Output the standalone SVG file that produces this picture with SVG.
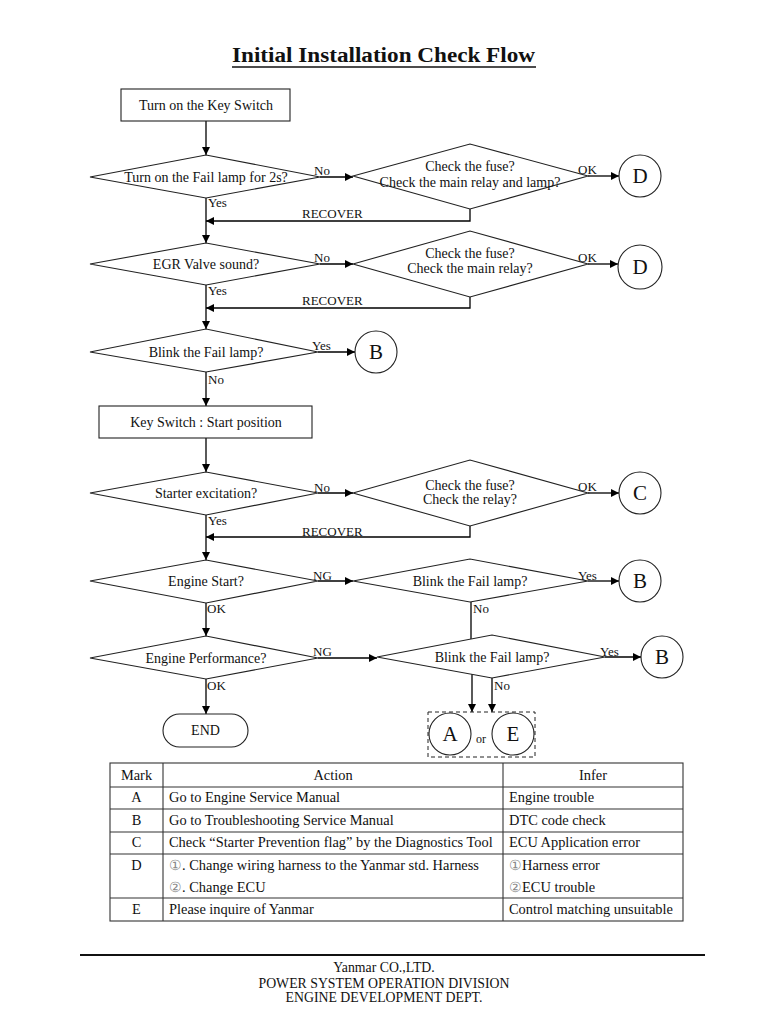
<svg xmlns="http://www.w3.org/2000/svg" width="768" height="1024" viewBox="0 0 768 1024">
<defs>
<marker id="ah" viewBox="0 0 10 10" refX="10" refY="5" markerWidth="9" markerHeight="8" markerUnits="userSpaceOnUse" orient="auto">
<path d="M0,0 L10,5 L0,10 z" fill="#000"/>
</marker>
<style>
text{font-family:"Liberation Serif","DejaVu Serif",serif;fill:#111;}
.t{font-size:14px;text-anchor:middle;}
.l{font-size:13px;}
.c{font-size:21px;text-anchor:middle;}
.s{fill:#fff;stroke:#222;stroke-width:1.1;}
.e{stroke:#000;stroke-width:1.3;fill:none;}
.a{stroke:#000;stroke-width:1.3;fill:none;marker-end:url(#ah);}
.g{fill:#888;}
.tb{fill:none;stroke:#333;stroke-width:1.1;}
</style>
</defs>
<rect width="768" height="1024" fill="#fff"/>
<g id="title">
<text x="232" y="62" font-size="20" font-weight="bold" textLength="303" lengthAdjust="spacingAndGlyphs">Initial Installation Check Flow</text>
<line x1="232" y1="67" x2="536" y2="67" stroke="#111" stroke-width="1.5"/>
</g>
<g id="connectors">
<path class="a" d="M206,121 V155"/>
<path class="a" d="M320,177 H353"/>
<path class="a" d="M588,176 H619"/>
<path class="a" d="M470,209 V221 H206"/>
<path class="a" d="M206,198 V243"/>
<path class="a" d="M320,264 H353"/>
<path class="a" d="M588,264 H618"/>
<path class="a" d="M470,297 V308 H206"/>
<path class="a" d="M206,285 V329"/>
<path class="a" d="M318,352 H355"/>
<path class="a" d="M206,372 V406"/>
<path class="a" d="M206,438 V472"/>
<path class="a" d="M318,493 H353"/>
<path class="a" d="M588,493 H619"/>
<path class="a" d="M470,526 V537 H206"/>
<path class="a" d="M206,515 V560"/>
<path class="a" d="M318,581 H353"/>
<path class="a" d="M588,581 H619"/>
<path class="e" d="M471,602 V639"/>
<path class="a" d="M206,603 V636"/>
<path class="a" d="M318,658 H377"/>
<path class="a" d="M605,657 H641"/>
<path class="a" d="M472,674 V712"/>
<path class="a" d="M492,678 V712"/>
<path class="a" d="M206,679 V714"/>
<g class="l">
<text x="314" y="175">No</text>
<text x="578" y="174">OK</text>
<text x="302" y="218">RECOVER</text>
<text x="208" y="207">Yes</text>
<text x="314" y="262">No</text>
<text x="578" y="262">OK</text>
<text x="302" y="305">RECOVER</text>
<text x="208" y="295">Yes</text>
<text x="312" y="350">Yes</text>
<text x="208" y="384">No</text>
<text x="314" y="492">No</text>
<text x="578" y="491">OK</text>
<text x="302" y="536">RECOVER</text>
<text x="208" y="525">Yes</text>
<text x="313" y="580">NG</text>
<text x="578" y="580">Yes</text>
<text x="473" y="613">No</text>
<text x="207" y="613">OK</text>
<text x="313" y="656">NG</text>
<text x="600" y="656">Yes</text>
<text x="494" y="690">No</text>
<text x="207" y="690">OK</text>
</g>
</g>
<g id="start">
<rect class="s" x="121" y="89" width="169" height="32"/>
<text class="t" x="206" y="110">Turn on the Key Switch</text>
</g>
<g id="q1">
<polygon class="s" points="90,177 206,155 320,177 206,198"/>
<text class="t" x="206" y="182">Turn on the Fail lamp for 2s?</text>
</g>
<g id="q1r">
<polygon class="s" points="353,176 470,144 588,176 470,209"/>
<text class="t" x="470" y="171">Check the fuse?</text>
<text class="t" x="470" y="187">Check the main relay and lamp?</text>
</g>
<g id="d1">
<circle class="s" cx="640" cy="176" r="21"/>
<text class="c" x="640" y="183">D</text>
</g>
<g id="q2">
<polygon class="s" points="90,264 206,243 320,264 206,285"/>
<text class="t" x="206" y="269">EGR Valve sound?</text>
</g>
<g id="q2r">
<polygon class="s" points="353,264 470,231 588,264 470,297"/>
<text class="t" x="470" y="258">Check the fuse?</text>
<text class="t" x="470" y="273">Check the main relay?</text>
</g>
<g id="d2">
<circle class="s" cx="640" cy="267" r="22"/>
<text class="c" x="640" y="274">D</text>
</g>
<g id="q3">
<polygon class="s" points="90,352 206,329 318,352 206,372"/>
<text class="t" x="206" y="357">Blink the Fail lamp?</text>
</g>
<g id="b1">
<circle class="s" cx="376" cy="352" r="21"/>
<text class="c" x="376" y="359">B</text>
</g>
<g id="start-pos">
<rect class="s" x="99" y="406" width="213" height="32"/>
<text class="t" x="206" y="427">Key Switch : Start position</text>
</g>
<g id="q4">
<polygon class="s" points="90,493 206,472 318,493 206,515"/>
<text class="t" x="206" y="498">Starter excitation?</text>
</g>
<g id="q4r">
<polygon class="s" points="353,493 470,460 588,493 470,526"/>
<text class="t" x="470" y="490">Check the fuse?</text>
<text class="t" x="470" y="504">Check the relay?</text>
</g>
<g id="c1">
<circle class="s" cx="640" cy="493" r="21"/>
<text class="c" x="640" y="500">C</text>
</g>
<g id="q5">
<polygon class="s" points="90,581 206,560 318,581 206,603"/>
<text class="t" x="206" y="586">Engine Start?</text>
</g>
<g id="q5r">
<polygon class="s" points="353,581 470,559 588,581 470,602"/>
<text class="t" x="470" y="586">Blink the Fail lamp?</text>
</g>
<g id="b2">
<circle class="s" cx="640" cy="581" r="21"/>
<text class="c" x="640" y="588">B</text>
</g>
<g id="q6">
<polygon class="s" points="90,658 206,636 318,658 206,679"/>
<text class="t" x="206" y="663">Engine Performance?</text>
</g>
<g id="q6r">
<polygon class="s" points="377,657 492,635 605,657 492,678"/>
<text class="t" x="492" y="662">Blink the Fail lamp?</text>
</g>
<g id="b3">
<circle class="s" cx="662" cy="657" r="21"/>
<text class="c" x="662" y="664">B</text>
</g>
<g id="end">
<rect class="s" x="163" y="714" width="85" height="33" rx="16.5"/>
<text class="t" x="205.5" y="735">END</text>
</g>
<g id="ae">
<rect x="428" y="712" width="107" height="45" fill="none" stroke="#222" stroke-width="1" stroke-dasharray="4,3"/>
<circle class="s" cx="450" cy="734" r="21"/>
<text class="c" x="450" y="741">A</text>
<circle class="s" cx="513" cy="734" r="21"/>
<text class="c" x="513" y="741">E</text>
<text x="481" y="743" font-size="12" text-anchor="middle">or</text>
</g>
<g id="table">
<rect class="tb" x="110" y="763" width="573" height="158"/>
<line class="tb" x1="163" y1="763" x2="163" y2="921"/>
<line class="tb" x1="503" y1="763" x2="503" y2="921"/>
<line class="tb" x1="110" y1="787" x2="683" y2="787"/>
<line class="tb" x1="110" y1="809" x2="683" y2="809"/>
<line class="tb" x1="110" y1="832" x2="683" y2="832"/>
<line class="tb" x1="110" y1="854" x2="683" y2="854"/>
<line class="tb" x1="110" y1="898" x2="683" y2="898"/>
<g font-size="14.4" text-anchor="middle">
<text x="136.5" y="780">Mark</text>
<text x="333" y="780">Action</text>
<text x="593" y="780">Infer</text>
<text x="136.5" y="802">A</text>
<text x="136.5" y="825">B</text>
<text x="136.5" y="847">C</text>
<text x="136.5" y="870">D</text>
<text x="136.5" y="914">E</text>
</g>
<g font-size="14.4">
<text x="169" y="802">Go to Engine Service Manual</text>
<text x="169" y="825">Go to Troubleshooting Service Manual</text>
<text x="169" y="847">Check “Starter Prevention flag” by the Diagnostics Tool</text>
<text x="169" y="870"><tspan class="g">①</tspan>.  Change wiring harness to the Yanmar std. Harness</text>
<text x="169" y="892"><tspan class="g">②</tspan>.  Change ECU</text>
<text x="169" y="914">Please inquire of Yanmar</text>
<text x="509" y="802">Engine trouble</text>
<text x="509" y="825">DTC code check</text>
<text x="509" y="847">ECU Application error</text>
<text x="509" y="870"><tspan class="g">①</tspan>Harness error</text>
<text x="509" y="892"><tspan class="g">②</tspan>ECU trouble</text>
<text x="509" y="914">Control matching unsuitable</text>
</g>
</g>
<g id="footer">
<line x1="80" y1="955" x2="705" y2="955" stroke="#111" stroke-width="2"/>
<g font-size="13.8" text-anchor="middle">
<text x="384" y="972">Yanmar CO.,LTD.</text>
<text x="384" y="988">POWER SYSTEM OPERATION DIVISION</text>
<text x="384" y="1002">ENGINE DEVELOPMENT DEPT.</text>
</g>
</g>
</svg>
